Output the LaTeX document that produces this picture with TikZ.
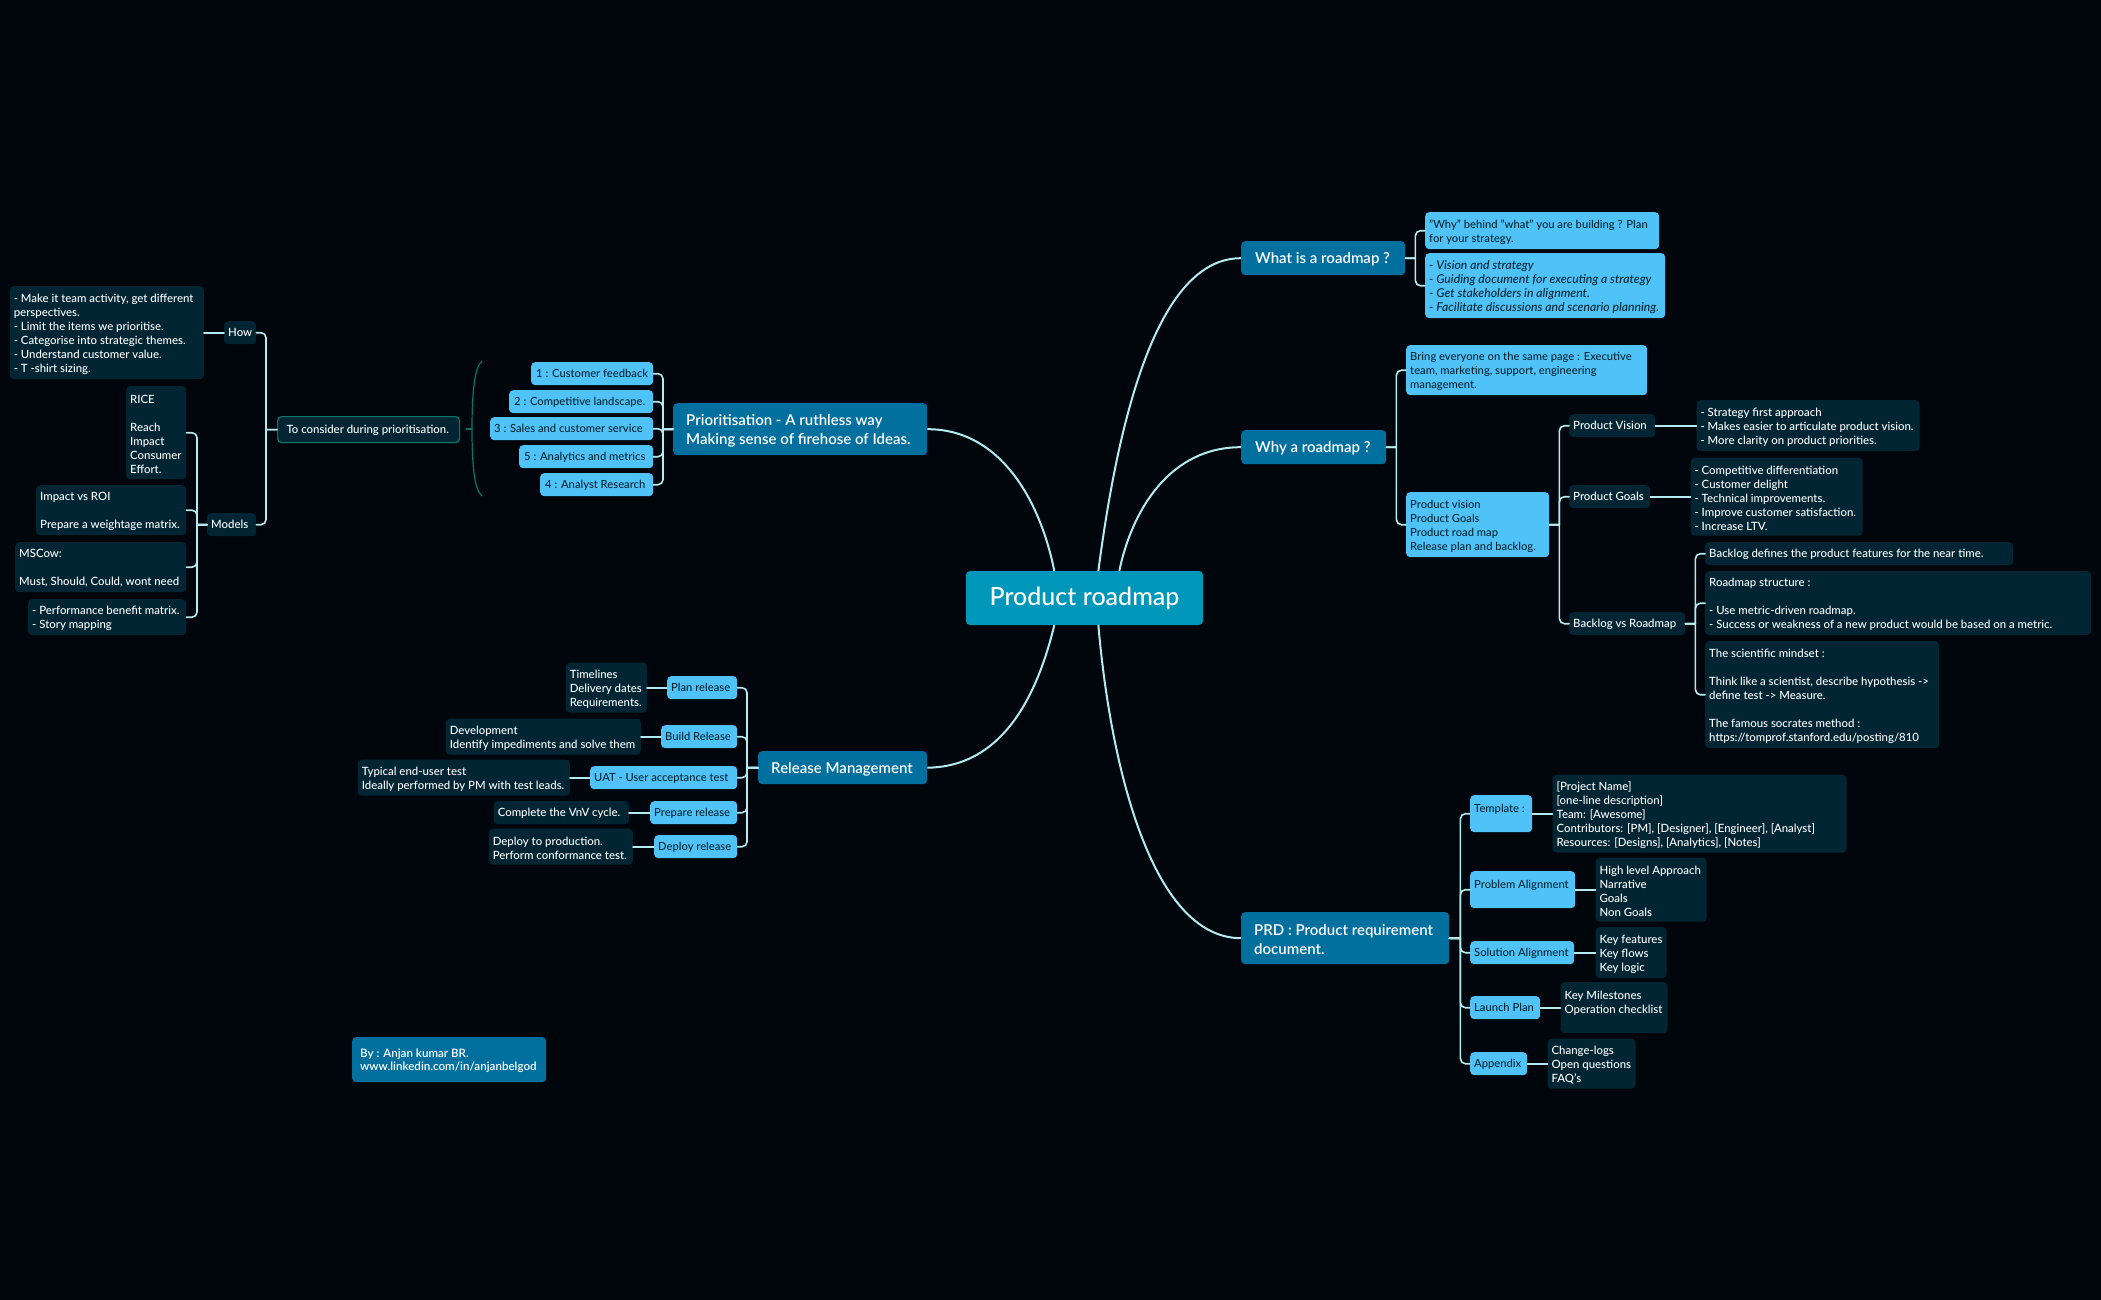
\documentclass[tikz,border=0pt]{standalone}
\usepackage{fontspec}
\setmainfont{Lato Medium}[ItalicFont={Lato Medium Italic},BoldFont={Lato Semibold}]
\usetikzlibrary{positioning}
\definecolor{night}{HTML}{00060B}
\definecolor{deep}{HTML}{022534}
\definecolor{sky}{HTML}{4FC3F7}
\definecolor{ocean}{HTML}{01709F}
\definecolor{lagoon}{HTML}{0097BA}
\definecolor{wire}{HTML}{B2EBF2}
\definecolor{tealline}{HTML}{00796B}
\tikzset{
  box/.style 2 args={anchor=north west,minimum height=#2pt,text width=\dimexpr#1pt-8pt\relax,
    inner xsep=4pt,inner ysep=0pt,align=flush left,rounded corners=4pt,
    execute at end node={\par\vspace{-2.5pt}}},
  leaf/.style={fill=deep,text=white,font=\fontsize{11.4}{14}\selectfont},
  tag/.style={fill=sky,text=deep,font=\fontsize{11.2}{14}\selectfont},
  branch/.style={fill=ocean,text=white,font=\fontsize{15}{19}\selectfont\bfseries},
  link/.style={draw=wire,line width=1.6pt,rounded corners=5pt,line cap=round},
  trunk/.style={draw=wire,line width=2pt},
  elbow/.style={to path={-- ++(#1,0) coordinate (knee) (knee) |- (\tikztotarget)}}
}
\begin{document}
\begin{tikzpicture}[x=1pt,y=-1pt]
   \useasboundingbox (0,0) rectangle (2101,1300);
   \fill[night] (0,0) rectangle (2101,1300);

   \node[fill=lagoon,text=white,rounded corners=4pt,minimum width=237pt,minimum height=54pt,
     font=\fontsize{25}{28}\selectfont] (root) at (1084.5,598) {Product roadmap};

   % left side
   \node[branch,box={254}{52},inner xsep=13pt,text width=228pt] (prio) at (673,403) {Prioritisation - A ruthless way\\Making sense of firehose of Ideas.};
   \node[tag,box={122}{23},inner xsep=5pt,text width=112pt] (c_1) at (531,362) {1 : Customer feedback};
   \node[tag,box={144}{23},inner xsep=5pt,text width=134pt] (c_2) at (509,390) {2 : Competitive landscape.};
   \node[tag,box={163}{23}] (c_3) at (490,417) {3 : Sales and customer service};
   \node[tag,box={134}{23},inner xsep=5pt,text width=124pt] (c_5) at (519,445) {5 : Analytics and metrics};
   \node[tag,box={113}{23},inner xsep=5pt,text width=103pt] (c_4) at (540,473) {4 : Analyst Research};
   \node[leaf,box={182}{26},draw=tealline,line width=1.2pt,inner xsep=9pt,text width=164pt] (consider) at (277,416) {To consider during prioritisation.};
   \node[leaf,box={32}{23}] (how) at (224,321) {How};
   \node[leaf,box={49}{23}] (models) at (207,513) {Models};
   \node[leaf,box={194}{93}] (how_note) [left=20pt of how] {- Make it team activity, get different\\perspectives.\\- Limit the items we prioritise.\\- Categorise into strategic themes.\\- Understand customer value.\\- T -shirt sizing.};
   \node[leaf,box={60}{93}] (m_rice) at (126,386) {RICE\\~\\Reach\\Impact\\Consumer\\Effort.};
   \node[leaf,box={150}{50}] (m_roi) at (36,485) {Impact vs ROI\\~\\Prepare a weightage matrix.};
   \node[leaf,box={171}{50}] (m_cow) at (15,542) {MSCow:\\~\\Must, Should, Could, wont need};
   \node[leaf,box={158}{36}] (m_perf) at (28,599) {- Performance benefit matrix.\\- Story mapping};

   \node[branch,box={169}{33},inner xsep=13pt,text width=143pt] (release) at (758,751) {Release Management};
   \node[tag,box={70}{23}] (r_plan) at (667,676) {Plan release};
   \node[tag,box={76}{23}] (r_build) at (661,725) {Build Release};
   \node[tag,box={147}{23}] (r_uat) at (590,766) {UAT - User acceptance test};
   \node[tag,box={87}{23}] (r_prep) at (650,801) {Prepare release};
   \node[tag,box={83}{23}] (r_depl) at (654,835) {Deploy release};
   \node[leaf,box={81}{50}] (p_note) [left=20pt of r_plan] {Timelines\\Delivery dates\\Requirements.};
   \node[leaf,box={195}{36}] (b_note) [left=20pt of r_build] {Development\\Identify impediments and solve them};
   \node[leaf,box={212}{36}] (u_note) [left=20pt of r_uat] {Typical end-user test\\Ideally performed by PM with test leads.};
   \node[leaf,box={135}{23}] (v_note) [left=21pt of r_prep] {Complete the VnV cycle.};
   \node[leaf,box={144}{36}] (d_note) [left=21pt of r_depl] {Deploy to production.\\Perform conformance test.};

   \node[fill=ocean,text=white,box={194}{45},inner xsep=8pt,text width=178pt,font=\fontsize{11.6}{13}\selectfont\bfseries] (author) at (352,1037) {By : Anjan kumar BR.\\www.linkedin.com/in/anjanbelgod};

   % right side
   \node[branch,box={164}{34},inner xsep=14pt,text width=136pt] (what) at (1241,241) {What is a roadmap ?};
   \node[tag,box={234}{37}] (w_why) at (1425,212) {"Why" behind "what" you are building ? Plan\\for your strategy.};
   \node[tag,box={240}{65},font=\fontsize{12.2}{14}\selectfont\itshape] (w_vis) at (1425,253) {- Vision and strategy\\- Guiding document for executing a strategy\\- Get stakeholders in alignment.\\- Facilitate discussions and scenario planning.};

   \node[branch,box={145}{34},inner xsep=14pt,text width=117pt] (why) at (1241,430) {Why a roadmap ?};
   \node[tag,box={241}{50}] (y_all) at (1406,345) {Bring everyone on the same page : Executive\\team, marketing, support, engineering\\management.};
   \node[tag,box={143}{65}] (y_prod) at (1406,492) {Product vision\\Product Goals\\Product road map\\Release plan and backlog.};
   \node[leaf,box={86}{23}] (y_vis) at (1569,414) {Product Vision};
   \node[leaf,box={81}{23}] (y_goal) at (1569,485) {Product Goals};
   \node[leaf,box={116}{23}] (y_back) at (1569,612) {Backlog vs Roadmap};
   \node[leaf,box={223}{51}] (vis_note) [right=41pt of y_vis] {- Strategy first approach\\- Makes easier to articulate product vision.\\- More clarity on product priorities.};
   \node[leaf,box={172}{78}] (goal_note) [right=40pt of y_goal] {- Competitive differentiation\\- Customer delight\\- Technical improvements.\\- Improve customer satisfaction.\\- Increase LTV.};
   \node[leaf,box={308}{23}] (k_def) at (1705,542) {Backlog defines the product features for the near time.};
   \node[leaf,box={386}{64}] (k_struct) at (1705,571) {Roadmap structure :\\~\\- Use metric-driven roadmap.\\- Success or weakness of a new product would be based on a metric.};
   \node[leaf,box={234}{107}] (k_sci) at (1705,641) {The scientific mindset :\\~\\Think like a scientist, describe hypothesis ->\\define test -> Measure.\\~\\The famous socrates method :\\https://tomprof.stanford.edu/posting/810};

   \node[branch,box={208}{52},inner xsep=13pt,text width=182pt] (prd) at (1241,912) {PRD : Product requirement\\document.};
   \node[tag,box={62}{37}] (t_tmpl) at (1470,795) {Template :\\~};
   \node[tag,box={105}{37}] (t_prob) at (1470,871) {Problem Alignment\\~};
   \node[tag,box={104}{23}] (t_sol) at (1470,941) {Solution Alignment};
   \node[tag,box={70}{23}] (t_lnch) at (1470,996) {Launch Plan};
   \node[tag,box={57}{23}] (t_app) at (1470,1052) {Appendix};
   \node[leaf,box={294}{78}] (tmpl_note) [right=20pt of t_tmpl] {[Project Name]\\{[}one-line description]\\Team: [Awesome]\\Contributors: [PM], [Designer], [Engineer], [Analyst]\\Resources: [Designs], [Analytics], [Notes]};
   \node[leaf,box={111}{64}] (prob_note) [right=20pt of t_prob] {High level Approach\\Narrative\\Goals\\Non Goals};
   \node[leaf,box={71}{51}] (sol_note) [right=21pt of t_sol] {Key features\\Key flows\\Key logic};
   \node[leaf,box={107}{51}] (lnch_note) [right=20pt of t_lnch] {Key Milestones\\Operation checklist\\~};
   \node[leaf,box={88}{50}] (app_note) [right=20pt of t_app] {Change-logs\\Open questions\\FAQ's};

   % trunk curves
   \path[trunk] (prio.east) .. controls (1000,429) and (1040,500) .. (root.138.5);
   \path[trunk] (release.east) .. controls (985,767) and (1030,725) .. (root.-138.5);
   \path[trunk] (what.west) .. controls (1165,258) and (1122,390) .. (root.63.4);
   \path[trunk] (why.west) .. controls (1170,447) and (1132,510) .. (root.38);
   \path[trunk] (prd.west) .. controls (1150,938) and (1110,760) .. (root.-63.4);

   % elbows
   \path[link]
    (prio.west) edge[elbow=-10] (c_1.east)
                edge[elbow=-10] (c_2.east)
                edge[elbow=-10] (c_3.east)
                edge[elbow=-10] (c_5.east)
                edge[elbow=-10] (c_4.east)
    (consider.west) edge[elbow=-11] (how.east)
                    edge[elbow=-11] (models.east)
    (models.west) edge[elbow=-10] (m_rice.east)
                  edge[elbow=-10] (m_roi.east)
                  edge[elbow=-10] (m_cow.east)
                  edge[elbow=-10] (m_perf.east)
    (release.west) edge[elbow=-11] (r_plan.east)
                   edge[elbow=-11] (r_build.east)
                   edge[elbow=-11] (r_uat.east)
                   edge[elbow=-11] (r_prep.east)
                   edge[elbow=-11] (r_depl.east)
    (what.east) edge[elbow=10] (w_why.west)
                edge[elbow=10] (w_vis.west)
    (why.east) edge[elbow=10] (y_all.west)
               edge[elbow=10] (y_prod.west)
    (y_prod.east) edge[elbow=10] (y_vis.west)
                  edge[elbow=10] (y_goal.west)
                  edge[elbow=10] (y_back.west)
    (y_back.east) edge[elbow=10] (k_def.west)
                  edge[elbow=10] (k_struct.west)
                  edge[elbow=10] (k_sci.west)
    (prd.east) edge[elbow=11] (t_tmpl.west)
               edge[elbow=11] (t_prob.west)
               edge[elbow=11] (t_sol.west)
               edge[elbow=11] (t_lnch.west)
               edge[elbow=11] (t_app.west);

   % straight ones
   \path[link]
    (how.west) edge (how_note.east)
    (r_plan.west) edge (p_note.east)
    (r_build.west) edge (b_note.east)
    (r_uat.west) edge (u_note.east)
    (r_prep.west) edge (v_note.east)
    (r_depl.west) edge (d_note.east)
    (y_vis.east) edge (vis_note.west)
    (y_goal.east) edge (goal_note.west)
    (t_tmpl.east) edge (tmpl_note.west)
    (t_prob.east) edge (prob_note.west)
    (t_sol.east) edge (sol_note.west)
    (t_lnch.east) edge (lnch_note.west)
    (t_app.east) edge (app_note.west);

   % bracket
   \coordinate (br_top) at (482,361);
   \coordinate (br_mid) at (472,429);
   \coordinate (br_bot) at (482,496);
   \coordinate (br_tick) at (466,429);
   \draw[tealline,line width=1.2pt] (br_top) .. controls (474,368) and (472,395) .. (br_mid) .. controls (472,463) and (474,490) .. (br_bot);
   \draw[tealline,line width=1.2pt] (br_tick) -- (br_mid);
\end{tikzpicture}
\end{document}
